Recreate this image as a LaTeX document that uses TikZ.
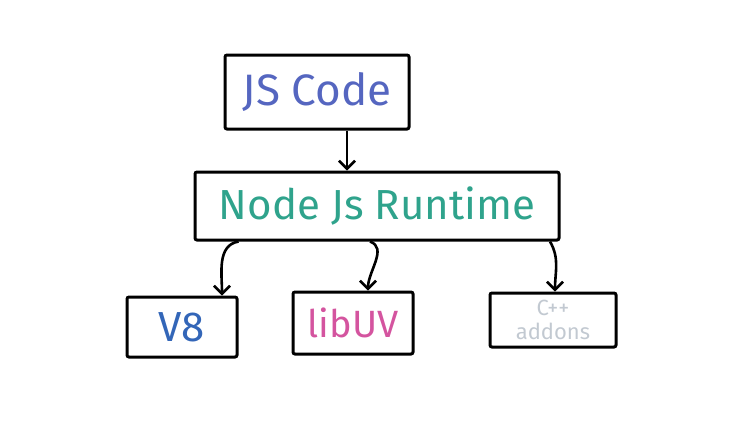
\documentclass[tikz,border=0pt]{standalone}
\usepackage{fontspec}
\setmainfont{Fira Sans}
\usetikzlibrary{arrows.meta}

\definecolor{jsblue}{HTML}{5566C0}
\definecolor{rtgreen}{HTML}{2FA38C}
\definecolor{veblue}{HTML}{3366B8}
\definecolor{uvpink}{HTML}{D4549F}
\definecolor{addgray}{HTML}{C2C9D1}

\tikzset{
  box/.style={draw, line width=1.5pt, rounded corners=1pt, inner sep=0pt},
  link/.style={line width=1.3pt, -{Straight Barb[length=4pt,width=8pt]}}
}

\begin{document}
\begin{tikzpicture}[x=0.5pt,y=-0.5pt]
\useasboundingbox (0,0) rectangle (733,425);

\node (code) [box, minimum width=92pt, minimum height=37pt, text=jsblue,
  font=\fontsize{22}{26}\selectfont] at (317,92) {JS Code};
\node (runtime) [box, minimum width=182pt, minimum height=34pt, text=rtgreen,
  font=\fontsize{21}{25}\selectfont] at (377,206) {Node Js Runtime};

\node (v8) [box, minimum width=55pt, minimum height=30pt, text=veblue,
  font=\fontsize{21}{25}\selectfont] at (182,327) {V8};
\node (libuv) [box, minimum width=60pt, minimum height=31pt, text=uvpink,
  font=\fontsize{19}{23}\selectfont] at (353,323) {libUV};
\node (addons) [box, minimum width=63pt, minimum height=27pt, text=addgray,
  align=center, font=\fontsize{11}{12}\selectfont] at (553,320) {C++\\addons};

\draw [link] (code.south -| 347,0) -- (runtime.north -| 347,0);
\draw [link] (runtime.south -| v8.east) to[out=190,in=90] ([xshift=20]v8.north);
\draw [link] (runtime.south -| 370,0) to[out=-20,in=90] (libuv.north -| 368,0);
\draw [link] (runtime.south -| 550,0) to[out=-60,in=90] (addons.north -| 555,0);
\end{tikzpicture}
\end{document}
